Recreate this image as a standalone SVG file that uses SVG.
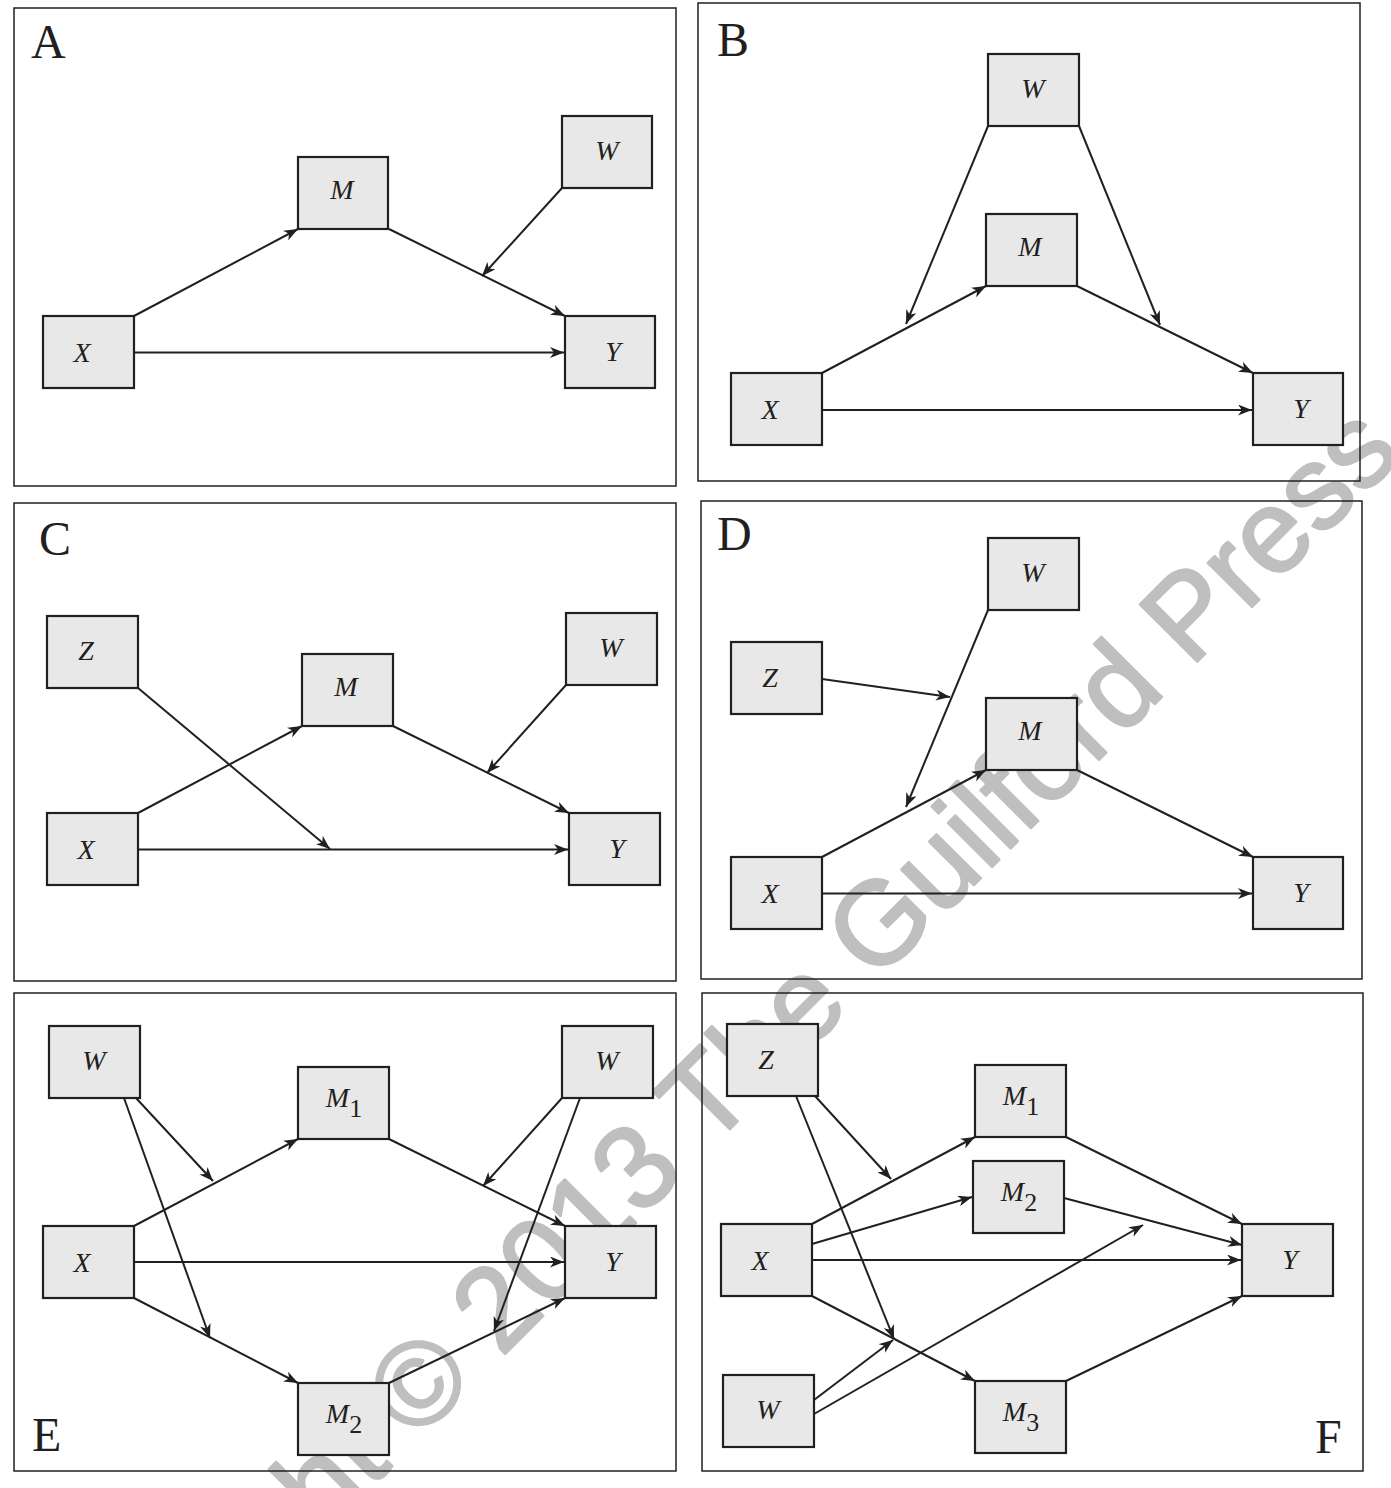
<svg xmlns="http://www.w3.org/2000/svg" width="1391" height="1488" viewBox="0 0 1391 1488">
<style>
.frame{fill:none;stroke:#231f20;stroke-width:1.5}
.box{fill:#e8e8e8;stroke:#231f20;stroke-width:2.2}
.lbl{font-family:"Liberation Serif","Times New Roman",serif;font-style:italic;font-size:28px;fill:#231f20;text-anchor:middle}
.sub{font-style:normal;font-size:26px}
.plab{font-family:"Liberation Serif","Times New Roman",serif;font-size:48px;fill:#231f20}
.wm{font-family:"Liberation Sans",Arial,sans-serif;font-size:118px;fill:#bfbfbf;stroke:#bfbfbf;stroke-width:2.5;stroke-linejoin:round}
.con path{fill:none;stroke:#231f20;stroke-width:2;marker-end:url(#ah)}
</style>
<defs>
<marker id="ah" markerUnits="userSpaceOnUse" markerWidth="15" markerHeight="11" refX="14" refY="5.5" orient="auto" viewBox="0 0 15 11">
<path d="M0,0 L14,5.5 L0,11 L4,5.5 Z" fill="#231f20"/>
</marker>
</defs>
<rect width="1391" height="1488" fill="#ffffff"/>
<text class="wm" transform="translate(36,1823) rotate(-45)">Copyright © 2013 The Guilford Press</text>

<g id="panelA">
<rect class="frame" x="14" y="8" width="662" height="478"/>
<text class="plab" x="31" y="58">A</text>
<g class="con" id="connA">
<path d="M134,316 L298,229"/>
<path d="M389,229 L565,316"/>
<path d="M134,352.5 L564,352.5"/>
<path d="M562,188 L482,276"/>
</g>
<g id="A-X"><rect class="box" x="43" y="316" width="91" height="72"/><text class="lbl" x="82" y="362">X</text></g>
<g id="A-M"><rect class="box" x="298" y="157" width="90" height="72"/><text class="lbl" x="342" y="199">M</text></g>
<g id="A-W"><rect class="box" x="562" y="116" width="90" height="72"/><text class="lbl" x="607" y="160">W</text></g>
<g id="A-Y"><rect class="box" x="565" y="316" width="90" height="72"/><text class="lbl" x="613" y="361">Y</text></g>
</g>

<g id="panelB">
<rect class="frame" x="698" y="3" width="662" height="478"/>
<text class="plab" x="717" y="56">B</text>
<g class="con" id="connB">
<path d="M822,373 L986,286"/>
<path d="M1077,286 L1253,373"/>
<path d="M822,410 L1252,410"/>
<path d="M988,126 L906,324"/>
<path d="M1079,126 L1160,325"/>
</g>
<g id="B-W"><rect class="box" x="988" y="54" width="91" height="72"/><text class="lbl" x="1033" y="98">W</text></g>
<g id="B-M"><rect class="box" x="986" y="214" width="91" height="72"/><text class="lbl" x="1030" y="256">M</text></g>
<g id="B-X"><rect class="box" x="731" y="373" width="91" height="72"/><text class="lbl" x="770" y="419">X</text></g>
<g id="B-Y"><rect class="box" x="1253" y="373" width="90" height="72"/><text class="lbl" x="1301" y="418">Y</text></g>
</g>

<g id="panelC">
<rect class="frame" x="14" y="503" width="662" height="478"/>
<text class="plab" x="39" y="555">C</text>
<g class="con" id="connC">
<path d="M138,813 L302,726"/>
<path d="M393,726 L569,813"/>
<path d="M138,849.5 L568,849.5"/>
<path d="M138,688 L330,849"/>
<path d="M566,685 L487,773"/>
</g>
<g id="C-Z"><rect class="box" x="47" y="616" width="91" height="72"/><text class="lbl" x="86" y="660">Z</text></g>
<g id="C-M"><rect class="box" x="302" y="654" width="91" height="72"/><text class="lbl" x="346" y="696">M</text></g>
<g id="C-W"><rect class="box" x="566" y="613" width="91" height="72"/><text class="lbl" x="611" y="657">W</text></g>
<g id="C-X"><rect class="box" x="47" y="813" width="91" height="72"/><text class="lbl" x="86" y="859">X</text></g>
<g id="C-Y"><rect class="box" x="569" y="813" width="91" height="72"/><text class="lbl" x="617" y="858">Y</text></g>
</g>

<g id="panelD">
<rect class="frame" x="701" y="501" width="661" height="478"/>
<text class="plab" x="717" y="550">D</text>
<g class="con" id="connD">
<path d="M822,857 L986,770"/>
<path d="M1077,770 L1253,857"/>
<path d="M822,893.5 L1252,893.5"/>
<path d="M988,610 L906,807"/>
<path d="M822,679 L950,697"/>
</g>
<g id="D-W"><rect class="box" x="988" y="538" width="91" height="72"/><text class="lbl" x="1033" y="582">W</text></g>
<g id="D-Z"><rect class="box" x="731" y="642" width="91" height="72"/><text class="lbl" x="770" y="687">Z</text></g>
<g id="D-M"><rect class="box" x="986" y="698" width="91" height="72"/><text class="lbl" x="1030" y="740">M</text></g>
<g id="D-X"><rect class="box" x="731" y="857" width="91" height="72"/><text class="lbl" x="770" y="903">X</text></g>
<g id="D-Y"><rect class="box" x="1253" y="857" width="90" height="72"/><text class="lbl" x="1301" y="902">Y</text></g>
</g>

<g id="panelE">
<rect class="frame" x="14" y="993" width="662" height="478"/>
<text class="plab" x="32" y="1451">E</text>
<g class="con" id="connE">
<path d="M134,1226 L298,1139"/>
<path d="M389,1139 L565,1226"/>
<path d="M134,1262 L564,1262"/>
<path d="M134,1298 L298,1383"/>
<path d="M389,1383 L565,1298"/>
<path d="M136,1098 L213,1181"/>
<path d="M124,1098 L210,1338"/>
<path d="M562,1098 L483,1186"/>
<path d="M580,1098 L494,1331"/>
</g>
<g id="E-W1"><rect class="box" x="49" y="1026" width="91" height="72"/><text class="lbl" x="94" y="1070">W</text></g>
<g id="E-M1"><rect class="box" x="298" y="1067" width="91" height="72"/><text class="lbl" x="344" y="1107">M<tspan class="sub" dy="10">1</tspan></text></g>
<g id="E-W2"><rect class="box" x="562" y="1026" width="91" height="72"/><text class="lbl" x="607" y="1070">W</text></g>
<g id="E-X"><rect class="box" x="43" y="1226" width="91" height="72"/><text class="lbl" x="82" y="1272">X</text></g>
<g id="E-Y"><rect class="box" x="565" y="1226" width="91" height="72"/><text class="lbl" x="613" y="1271">Y</text></g>
<g id="E-M2"><rect class="box" x="298" y="1383" width="91" height="72"/><text class="lbl" x="344" y="1423">M<tspan class="sub" dy="10">2</tspan></text></g>
</g>

<g id="panelF">
<rect class="frame" x="702" y="993" width="661" height="478"/>
<text class="plab" x="1315" y="1453">F</text>
<g class="con" id="connF">
<path d="M812,1224 L975,1137"/>
<path d="M812,1244 L972,1197"/>
<path d="M812,1260 L1241,1260"/>
<path d="M812,1296 L975,1381"/>
<path d="M1066,1137 L1242,1224"/>
<path d="M1064,1198 L1242,1245"/>
<path d="M1066,1381 L1242,1296"/>
<path d="M815,1096 L891,1179"/>
<path d="M796,1096 L894,1339"/>
<path d="M814,1400 L893,1340"/>
<path d="M814,1414 L1143,1225"/>
</g>
<g id="F-Z"><rect class="box" x="727" y="1024" width="91" height="72"/><text class="lbl" x="766" y="1069">Z</text></g>
<g id="F-M1"><rect class="box" x="975" y="1065" width="91" height="72"/><text class="lbl" x="1021" y="1105">M<tspan class="sub" dy="10">1</tspan></text></g>
<g id="F-M2"><rect class="box" x="973" y="1161" width="91" height="72"/><text class="lbl" x="1019" y="1201">M<tspan class="sub" dy="10">2</tspan></text></g>
<g id="F-X"><rect class="box" x="721" y="1224" width="91" height="72"/><text class="lbl" x="760" y="1270">X</text></g>
<g id="F-Y"><rect class="box" x="1242" y="1224" width="91" height="72"/><text class="lbl" x="1290" y="1269">Y</text></g>
<g id="F-W"><rect class="box" x="723" y="1375" width="91" height="72"/><text class="lbl" x="768" y="1419">W</text></g>
<g id="F-M3"><rect class="box" x="975" y="1381" width="91" height="72"/><text class="lbl" x="1021" y="1421">M<tspan class="sub" dy="10">3</tspan></text></g>
</g>
</svg>
